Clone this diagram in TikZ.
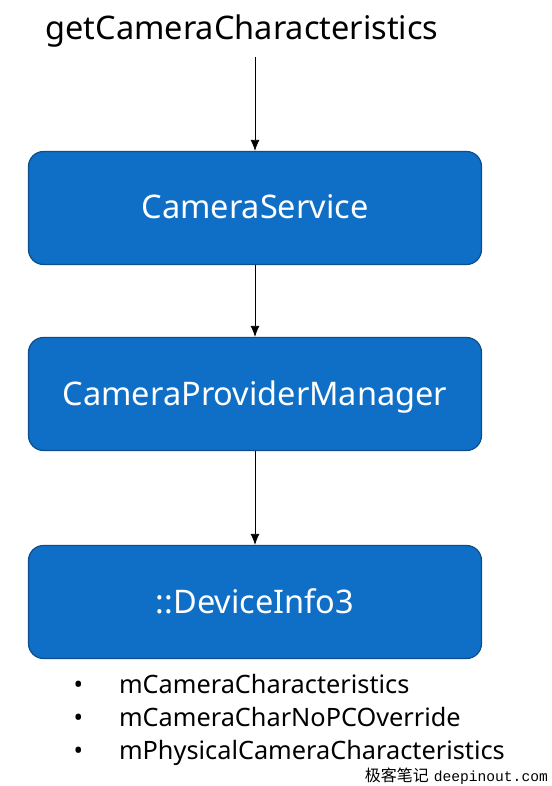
\documentclass[tikz,border=0pt]{standalone}
\usepackage{fontspec}
\setmainfont{Noto Sans}
\setmonofont{Liberation Mono}
\newfontfamily\cjk{Noto Sans CJK SC}
\definecolor{boxblue}{HTML}{0F6FC6}
\definecolor{boxedge}{HTML}{0B4F8E}
\tikzset{
    callbox/.style={draw=boxedge, fill=boxblue, line width=1.2pt, rounded corners=15pt,
        minimum width=453pt, minimum height=113pt, text=white, text depth=2pt,
        font=\fontsize{32.5}{38}\selectfont},
    callarrow/.style={-{Latex[length=11pt,width=9pt]}, line width=0.8pt},
    member/.style={anchor=base west, font=\fontsize{25.3}{30}\selectfont}
}
\usetikzlibrary{arrows.meta}
\begin{document}
\begin{tikzpicture}[x=1pt,y=-1pt]
    \useasboundingbox (0,0) rectangle (551,786);

    \node (query) at (242,31) {\fontsize{32.5}{38}\selectfont getCameraCharacteristics};

    \node[callbox] (service) at (255,208) {CameraService};
    \node[callbox] (manager) at (255,394) {CameraProviderManager};
    \node[callbox] (devinfo) at (255,602) {::DeviceInfo3};

    \draw[callarrow] (255,57) -- (service.north);
    \draw[callarrow] (service.south) -- (manager.north);
    \draw[callarrow] (manager.south) -- (devinfo.north);

    % member fields
    \node[member] (charA) at (70,693) {\textbullet\hspace{36pt}mCameraCharacteristics};
    \node[member] (charB) at (70,726) {\textbullet\hspace{36pt}mCameraCharNoPCOverride};
    \node[member] (charC) at (70,759) {\textbullet\hspace{36pt}mPhysicalCameraCharacteristics};

    \node[anchor=east, inner sep=1pt] (mark) at (549,776) {{\cjk\fontsize{16}{18}\selectfont 极客笔记}\hspace{5pt}{\ttfamily\fontsize{14.6}{16}\selectfont deepinout.com}};
\end{tikzpicture}
\end{document}
